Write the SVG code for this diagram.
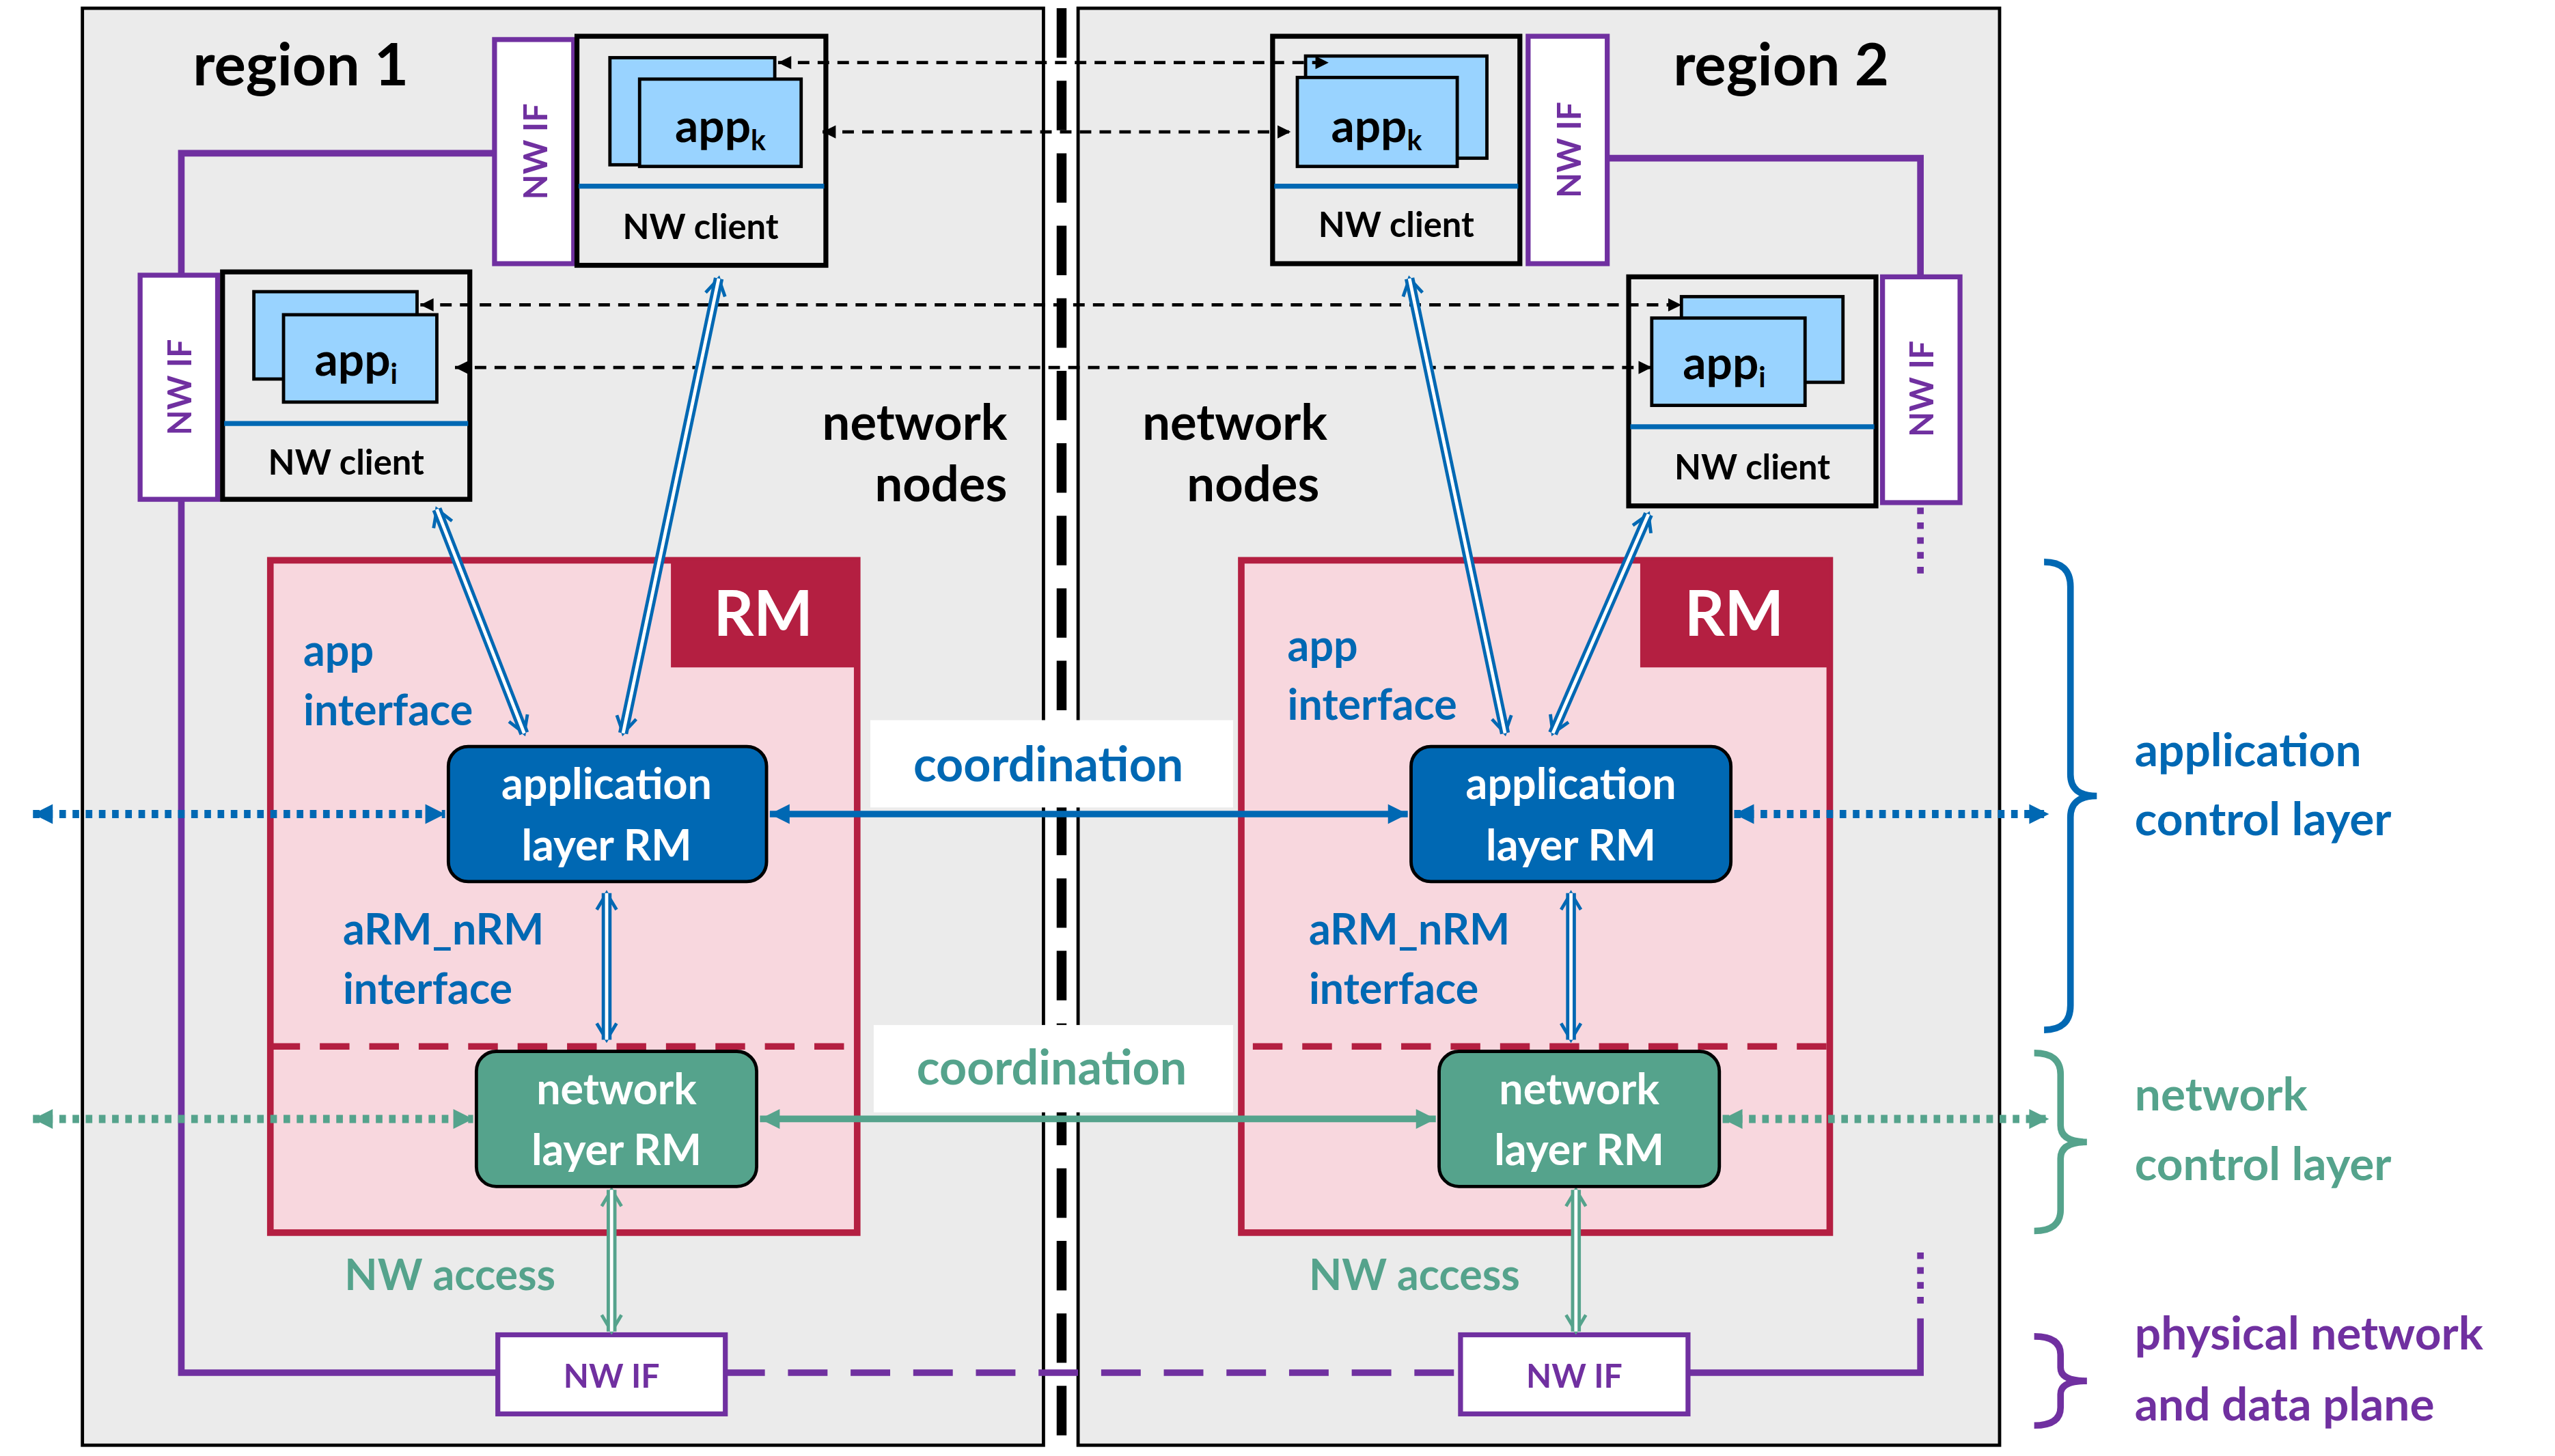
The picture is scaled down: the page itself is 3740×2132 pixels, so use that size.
<svg xmlns="http://www.w3.org/2000/svg" width="3740" height="2132" viewBox="0 0 3740 2132">
<style>
text{font-family:Lato,"Open Sans","Liberation Sans",sans-serif;font-weight:bold}
.reg{fill:#ebebeb;stroke:#000;stroke-width:2}
.nwif{fill:#fff;stroke:#7030a0;stroke-width:3}
.cli{fill:#ebebeb;stroke:#000;stroke-width:3}
.app{fill:#99d3ff;stroke:#000;stroke-width:2}
.bl{stroke:#0068b3;stroke-width:3}
.pur{fill:none;stroke:#7030a0;stroke-width:4}
.dsh{stroke:#000;stroke-width:2;stroke-dasharray:7 5;fill:none}
.rm{fill:#f8d7de;stroke:#b41f41;stroke-width:4}
.blue{fill:#0068b3}
.teal{fill:#55a38c}
.dbl{stroke-width:6;fill:none}
.inner{stroke:#fff;stroke-width:2;fill:none}
</style>
<defs>
<marker id="ah" markerWidth="10" markerHeight="10" refX="9" refY="5" orient="auto-start-reverse" markerUnits="userSpaceOnUse"><path d="M1,1 L9,5 L1,9 Z" fill="#000"/></marker>
<marker id="ab" markerWidth="14" markerHeight="14" refX="13" refY="7" orient="auto-start-reverse" markerUnits="userSpaceOnUse"><path d="M1,1 L13,7 L1,13 Z" fill="#0068b3"/></marker>
<marker id="at" markerWidth="14" markerHeight="14" refX="13" refY="7" orient="auto-start-reverse" markerUnits="userSpaceOnUse"><path d="M1,1 L13,7 L1,13 Z" fill="#55a38c"/></marker>
<marker id="ob" markerWidth="14" markerHeight="14" refX="12" refY="7" orient="auto-start-reverse" markerUnits="userSpaceOnUse"><path d="M2,1 L12,7 L2,13" fill="none" stroke="#0068b3" stroke-width="2"/></marker>
<marker id="ot" markerWidth="14" markerHeight="14" refX="12" refY="7" orient="auto-start-reverse" markerUnits="userSpaceOnUse"><path d="M2,1 L12,7 L2,13" fill="none" stroke="#55a38c" stroke-width="2"/></marker>
</defs>
<rect width="3740" height="2132" fill="#fff"/>
<g transform="scale(2.413)">
<g id="region1"><rect class="reg" x="50" y="5" width="583" height="872"/><text x="117" y="52" font-size="36">region 1</text></g>
<g id="region2"><rect class="reg" x="654" y="5" width="559" height="872"/><text x="1015" y="52" font-size="36">region 2</text></g>
<line x1="644" y1="5" x2="644" y2="877" stroke="#000" stroke-width="6" stroke-dasharray="30 14"/>

<g id="wires">
<polyline class="pur" points="300,93 110,93 110,167"/>
<polyline class="pur" points="110,303 110,833 302,833"/>
<line class="pur" x1="440" y1="833" x2="886" y2="833" stroke-dasharray="24 14"/>
<polyline class="pur" points="1024,833 1165,833 1165,800"/>
<line class="pur" x1="1165" y1="760" x2="1165" y2="792" stroke-dasharray="4 5"/>
<polyline class="pur" points="975,96 1165,96 1165,168"/>
<line class="pur" x1="1165" y1="308" x2="1165" y2="350" stroke-dasharray="4 5"/>
</g>

<g id="rm1"><rect class="rm" x="164" y="340" width="356" height="408"/><rect x="407" y="340" width="113" height="65" fill="#b41f41"/><text x="463" y="386" font-size="38" fill="#fff" text-anchor="middle">RM</text></g>
<g id="rm2"><rect class="rm" x="753" y="340" width="357" height="408"/><rect x="995" y="340" width="115" height="65" fill="#b41f41"/><text x="1052" y="386" font-size="38" fill="#fff" text-anchor="middle">RM</text></g>
<line x1="164" y1="635" x2="520" y2="635" stroke="#b41f41" stroke-width="4" stroke-dasharray="18 12"/>
<line x1="760" y1="635" x2="1113" y2="635" stroke="#b41f41" stroke-width="4" stroke-dasharray="18 12"/>

<g id="nwif1a"><rect class="nwif" x="300" y="24" width="48" height="136"/><text transform="translate(332,92) rotate(-90)" font-size="20" fill="#7030a0" text-anchor="middle">NW IF</text></g>
<g id="nwif1b"><rect class="nwif" x="85" y="167" width="47" height="136"/><text transform="translate(116,235) rotate(-90)" font-size="20" fill="#7030a0" text-anchor="middle">NW IF</text></g>
<g id="nwif2a"><rect class="nwif" x="927" y="22" width="48" height="138"/><text transform="translate(959,91) rotate(-90)" font-size="20" fill="#7030a0" text-anchor="middle">NW IF</text></g>
<g id="nwif2b"><rect class="nwif" x="1142" y="168" width="47" height="137"/><text transform="translate(1173,236) rotate(-90)" font-size="20" fill="#7030a0" text-anchor="middle">NW IF</text></g>
<g id="nwif1c"><rect class="nwif" x="302" y="810" width="138" height="48"/><text x="371" y="842" font-size="20" fill="#7030a0" text-anchor="middle">NW IF</text></g>
<g id="nwif2c"><rect class="nwif" x="886" y="810" width="138" height="48"/><text x="955" y="842" font-size="20" fill="#7030a0" text-anchor="middle">NW IF</text></g>

<g id="client1k"><rect class="cli" x="350" y="22" width="151" height="139"/><line class="bl" x1="351" y1="113" x2="500" y2="113"/><rect class="app" x="370" y="35" width="100" height="65"/><rect class="app" x="388" y="48" width="98" height="53"/><text x="437" y="86" font-size="28" text-anchor="middle">app<tspan font-size="17" dy="5">k</tspan></text><text x="425" y="145" font-size="21" text-anchor="middle">NW client</text></g>
<g id="client1i"><rect class="cli" x="135" y="165" width="150" height="138"/><line class="bl" x1="136" y1="257" x2="284" y2="257"/><rect class="app" x="154" y="177" width="99" height="53"/><rect class="app" x="172" y="191" width="93" height="53"/><text x="216" y="228" font-size="28" text-anchor="middle">app<tspan font-size="17" dy="5">i</tspan></text><text x="210" y="288" font-size="21" text-anchor="middle">NW client</text></g>
<g id="client2k"><rect class="cli" x="772" y="22" width="150" height="138"/><line class="bl" x1="773" y1="113" x2="921" y2="113"/><rect class="app" x="792" y="34" width="110" height="62"/><rect class="app" x="787" y="47" width="97" height="54"/><text x="835" y="86" font-size="28" text-anchor="middle">app<tspan font-size="17" dy="5">k</tspan></text><text x="847" y="144" font-size="21" text-anchor="middle">NW client</text></g>
<g id="client2i"><rect class="cli" x="988" y="168" width="150" height="139"/><line class="bl" x1="989" y1="259" x2="1137" y2="259"/><rect class="app" x="1020" y="180" width="98" height="52"/><rect class="app" x="1002" y="193" width="93" height="53"/><text x="1046" y="230" font-size="28" text-anchor="middle">app<tspan font-size="17" dy="5">i</tspan></text><text x="1063" y="291" font-size="21" text-anchor="middle">NW client</text></g>

<g id="coord1"><rect x="528" y="437" width="220" height="53" fill="#fff"/><text x="636" y="474" font-size="29" fill="#0068b3" text-anchor="middle">coordination</text></g>
<g id="coord2"><rect x="530" y="622" width="218" height="53" fill="#fff"/><text x="638" y="658" font-size="29" fill="#55a38c" text-anchor="middle">coordination</text></g>

<g id="connectors">
<line class="dsh" x1="472" y1="38" x2="806" y2="38" marker-start="url(#ah)" marker-end="url(#ah)"/>
<line class="dsh" x1="499" y1="80" x2="783" y2="80" marker-start="url(#ah)" marker-end="url(#ah)"/>
<line class="dsh" x1="255" y1="185" x2="1020" y2="185" marker-start="url(#ah)" marker-end="url(#ah)"/>
<line class="dsh" x1="276" y1="223" x2="1002" y2="223" marker-start="url(#ah)" marker-end="url(#ah)"/>
<line x1="467" y1="494" x2="854" y2="494" stroke="#0068b3" stroke-width="4" marker-start="url(#ab)" marker-end="url(#ab)"/>
<line x1="461" y1="679" x2="871" y2="679" stroke="#55a38c" stroke-width="4" marker-start="url(#at)" marker-end="url(#at)"/>
<line x1="20" y1="494" x2="270" y2="494" stroke="#0068b3" stroke-width="5" stroke-dasharray="4 4" marker-start="url(#ab)" marker-end="url(#ab)"/>
<line x1="1052" y1="494" x2="1243" y2="494" stroke="#0068b3" stroke-width="5" stroke-dasharray="4 4" marker-start="url(#ab)" marker-end="url(#ab)"/>
<line x1="20" y1="679" x2="287" y2="679" stroke="#55a38c" stroke-width="5" stroke-dasharray="4 4" marker-start="url(#at)" marker-end="url(#at)"/>
<line x1="1045" y1="679" x2="1243" y2="679" stroke="#55a38c" stroke-width="5" stroke-dasharray="4 4" marker-start="url(#at)" marker-end="url(#at)"/>
<g stroke="#0068b3">
<line class="dbl" x1="265" y1="309" x2="318" y2="445" marker-start="url(#ob)" marker-end="url(#ob)"/><line class="inner" x1="265" y1="309" x2="318" y2="445"/>
<line class="dbl" x1="436" y1="169" x2="378" y2="445" marker-start="url(#ob)" marker-end="url(#ob)"/><line class="inner" x1="436" y1="169" x2="378" y2="445"/>
<line class="dbl" x1="855" y1="169" x2="913" y2="445" marker-start="url(#ob)" marker-end="url(#ob)"/><line class="inner" x1="855" y1="169" x2="913" y2="445"/>
<line class="dbl" x1="1000" y1="312" x2="942" y2="445" marker-start="url(#ob)" marker-end="url(#ob)"/><line class="inner" x1="1000" y1="312" x2="942" y2="445"/>
<line class="dbl" x1="368" y1="542" x2="368" y2="631" marker-start="url(#ob)" marker-end="url(#ob)"/><line class="inner" x1="368" y1="542" x2="368" y2="631"/>
<line class="dbl" x1="953" y1="542" x2="953" y2="631" marker-start="url(#ob)" marker-end="url(#ob)"/><line class="inner" x1="953" y1="542" x2="953" y2="631"/>
</g>
<g stroke="#55a38c">
<line class="dbl" x1="371" y1="722" x2="371" y2="808" marker-start="url(#ot)" marker-end="url(#ot)"/><line class="inner" x1="371" y1="722" x2="371" y2="808"/>
<line class="dbl" x1="956" y1="722" x2="956" y2="808" marker-start="url(#ot)" marker-end="url(#ot)"/><line class="inner" x1="956" y1="722" x2="956" y2="808"/>
</g>
</g>

<g id="arm1"><rect x="272" y="453" width="193" height="82" rx="12" fill="#0068b3" stroke="#000" stroke-width="2"/><text x="368" y="485" font-size="26" fill="#fff" text-anchor="middle">application</text><text x="368" y="522" font-size="26" fill="#fff" text-anchor="middle">layer RM</text></g>
<g id="arm2"><rect x="856" y="453" width="194" height="82" rx="12" fill="#0068b3" stroke="#000" stroke-width="2"/><text x="953" y="485" font-size="26" fill="#fff" text-anchor="middle">application</text><text x="953" y="522" font-size="26" fill="#fff" text-anchor="middle">layer RM</text></g>
<g id="nrm1"><rect x="289" y="638" width="170" height="82" rx="12" fill="#55a38c" stroke="#000" stroke-width="2"/><text x="374" y="670" font-size="26" fill="#fff" text-anchor="middle">network</text><text x="374" y="707" font-size="26" fill="#fff" text-anchor="middle">layer RM</text></g>
<g id="nrm2"><rect x="873" y="638" width="170" height="82" rx="12" fill="#55a38c" stroke="#000" stroke-width="2"/><text x="958" y="670" font-size="26" fill="#fff" text-anchor="middle">network</text><text x="958" y="707" font-size="26" fill="#fff" text-anchor="middle">layer RM</text></g>

<g id="labels" font-size="26">
<text class="blue" x="184" y="404">app</text><text class="blue" x="184" y="440">interface</text>
<text class="blue" x="781" y="401">app</text><text class="blue" x="781" y="437">interface</text>
<text class="blue" x="208" y="573">aRM_nRM</text><text class="blue" x="208" y="609">interface</text>
<text class="blue" x="794" y="573">aRM_nRM</text><text class="blue" x="794" y="609">interface</text>
<text class="teal" x="209" y="783">NW access</text><text class="teal" x="794" y="783">NW access</text>
<text x="611" y="267" font-size="30" text-anchor="end">network</text><text x="611" y="304" font-size="30" text-anchor="end">nodes</text>
<text x="693" y="267" font-size="30">network</text><text x="720" y="304" font-size="30">nodes</text>
</g>

<g id="layers" font-size="28">
<path d="M1240,341 Q1256,341 1256,356 L1256,470 Q1256,483 1272,483 Q1256,483 1256,496 L1256,610 Q1256,625 1240,625" fill="none" stroke="#0068b3" stroke-width="4"/>
<text class="blue" x="1295" y="465">application</text><text class="blue" x="1295" y="507">control layer</text>
<path d="M1234,639 Q1250,639 1250,652 L1250,683 Q1250,693 1266,693 Q1250,693 1250,703 L1250,734 Q1250,747 1234,747" fill="none" stroke="#55a38c" stroke-width="4"/>
<text class="teal" x="1295" y="674">network</text><text class="teal" x="1295" y="716">control layer</text>
<path d="M1234,811 Q1250,811 1250,822 L1250,830 Q1250,838 1266,838 Q1250,838 1250,846 L1250,854 Q1250,865 1234,865" fill="none" stroke="#7030a0" stroke-width="4"/>
<text x="1295" y="819" fill="#7030a0">physical network</text><text x="1295" y="862" fill="#7030a0">and data plane</text>
</g>
</g>
</svg>
